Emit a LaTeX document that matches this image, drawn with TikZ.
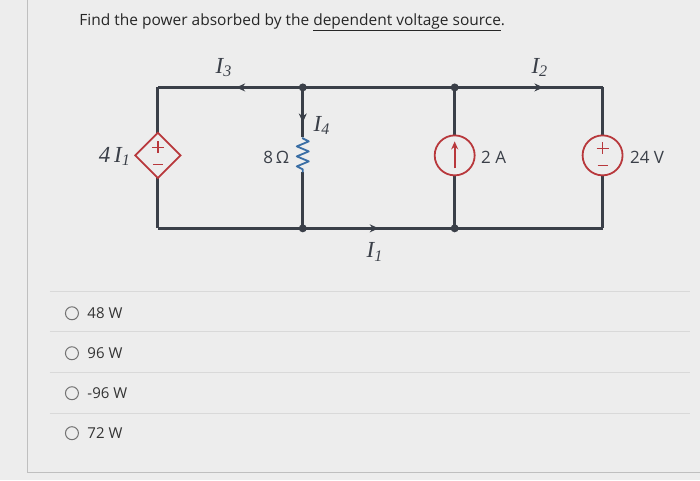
\documentclass[tikz,border=0pt]{standalone}
\usepackage{fontspec}
\setmainfont{Open Sans}
\newfontfamily\mathser{Liberation Serif}
\usetikzlibrary{shapes.geometric,arrows.meta,decorations.markings}
\definecolor{bg}{HTML}{EDEDED}
\definecolor{wire}{HTML}{3A3F48}
\definecolor{src}{HTML}{B8383C}
\definecolor{res}{HTML}{3A6EA5}
\tikzset{
 wirel/.style={line width=3pt,color=wire},
 srcl/.style={draw=src,line width=1.8pt,fill=bg},
 dotn/.style={circle,fill=wire,inner sep=0pt,minimum size=8pt},
 lbl/.style={font=\mathser\itshape\fontsize{23}{23}\selectfont,text=wire},
 vl/.style={font=\fontsize{17}{17}\selectfont,text=wire},
 sgnl/.style={src,line width=1.6pt},
 opt/.style={font=\fontsize{15}{15}\selectfont,text=black!80,anchor=west},
 radio/.style={circle,draw=black!55,line width=1pt,minimum size=13pt,inner sep=0pt},
 midarr/.style={decoration={markings,mark=at position #1 with {\arrow{Stealth[length=9pt,width=8pt]}}},postaction={decorate}}
}
\begin{document}
\begin{tikzpicture}[x=1pt,y=-1pt]
\fill[bg] (0,0) rectangle (700,480);
\draw[black!25,line width=1pt] (28,0) -- (28,472) -- (700,472);
\foreach \y in {291,331,372,413} \draw[black!15] (50,\y) -- (690,\y);
\node[anchor=west,font=\fontsize{15.5}{16}\selectfont,text=black!85] (title) at (76,22) {Find the power absorbed by the \underline{dependent voltage source}.};
\coordinate (tl) at (158,87); \coordinate (tr) at (303,87); \coordinate (tm) at (455,87); \coordinate (tR) at (603,87);
\coordinate (bl) at (158,228); \coordinate (br) at (303,228); \coordinate (bm) at (455,228); \coordinate (bR) at (603,228);
\draw[wirel,midarr=0.46] (tr) -- (tl);
\draw[wirel] (tr) -- (tm);
\draw[wirel,midarr=0.6] (tm) -- (tR);
\draw[wirel] (bl) -- (br);
\draw[wirel,midarr=0.5] (br) -- (bm);
\draw[wirel] (bm) -- (bR);
\draw[wirel] (tl) -- (bl);
\draw[wirel] (tR) -- (bR);
\draw[wirel] (tm) -- (bm);
\coordinate (r1) at (303,137); \coordinate (r2) at (303,172);
\draw[wirel,midarr=0.7] (tr) -- (r1);
\draw[wirel] (r2) -- (br);
\draw[res,line width=1.8pt,line join=round] (r1) -- ++(0,1) -- ++(6,3) -- ++(-12,5) -- ++(12,5) -- ++(-12,5) -- ++(12,5) -- ++(-12,5) -- ++(6,3) -- (r2);
\node[diamond,srcl,minimum width=46pt,minimum height=46pt,inner sep=0pt] (ds) at (158,155) {};
\draw[sgnl] (152,147) -- (164,147) (158,141) -- (158,153);
\draw[sgnl] (153,164) -- (163,164);
\node[circle,srcl,minimum size=40pt,inner sep=0pt] (cs) at (455,155) {};
\draw[src,line width=1.8pt,-{Stealth[length=8pt,width=7pt]}] (455,168) -- (455,141);
\node[circle,srcl,minimum size=40pt,inner sep=0pt] (vs) at (603,155) {};
\draw[sgnl] (597,148) -- (609,148) (603,142) -- (603,154);
\draw[sgnl] (598,165) -- (608,165);
\foreach \p in {tr,tm,br,bm} \node[dotn] at (\p) {};
\node[lbl] (i3) at (224,67) {I\textsubscript{3}};
\node[lbl] (i2) at (540,67) {I\textsubscript{2}};
\node[lbl] (i4) at (322,125) {I\textsubscript{4}};
\node[lbl] (i1) at (375,252) {I\textsubscript{1}};
\node[lbl,anchor=east] (g) at (134,156) {4\,I\textsubscript{1}};
\node[vl,anchor=east] (r) at (293,157) {8\,Ω};
\node[vl,anchor=west] (a) at (478,157) {2 A};
\node[vl,anchor=west] (v) at (627,157) {24 V};
\foreach \y/\t in {313/48 W,353/96 W,393/-96 W,433/72 W}{
 \node[radio] at (72,\y) {};
 \node[opt] at (84,\y) {\t};
}
\end{tikzpicture}
\end{document}
